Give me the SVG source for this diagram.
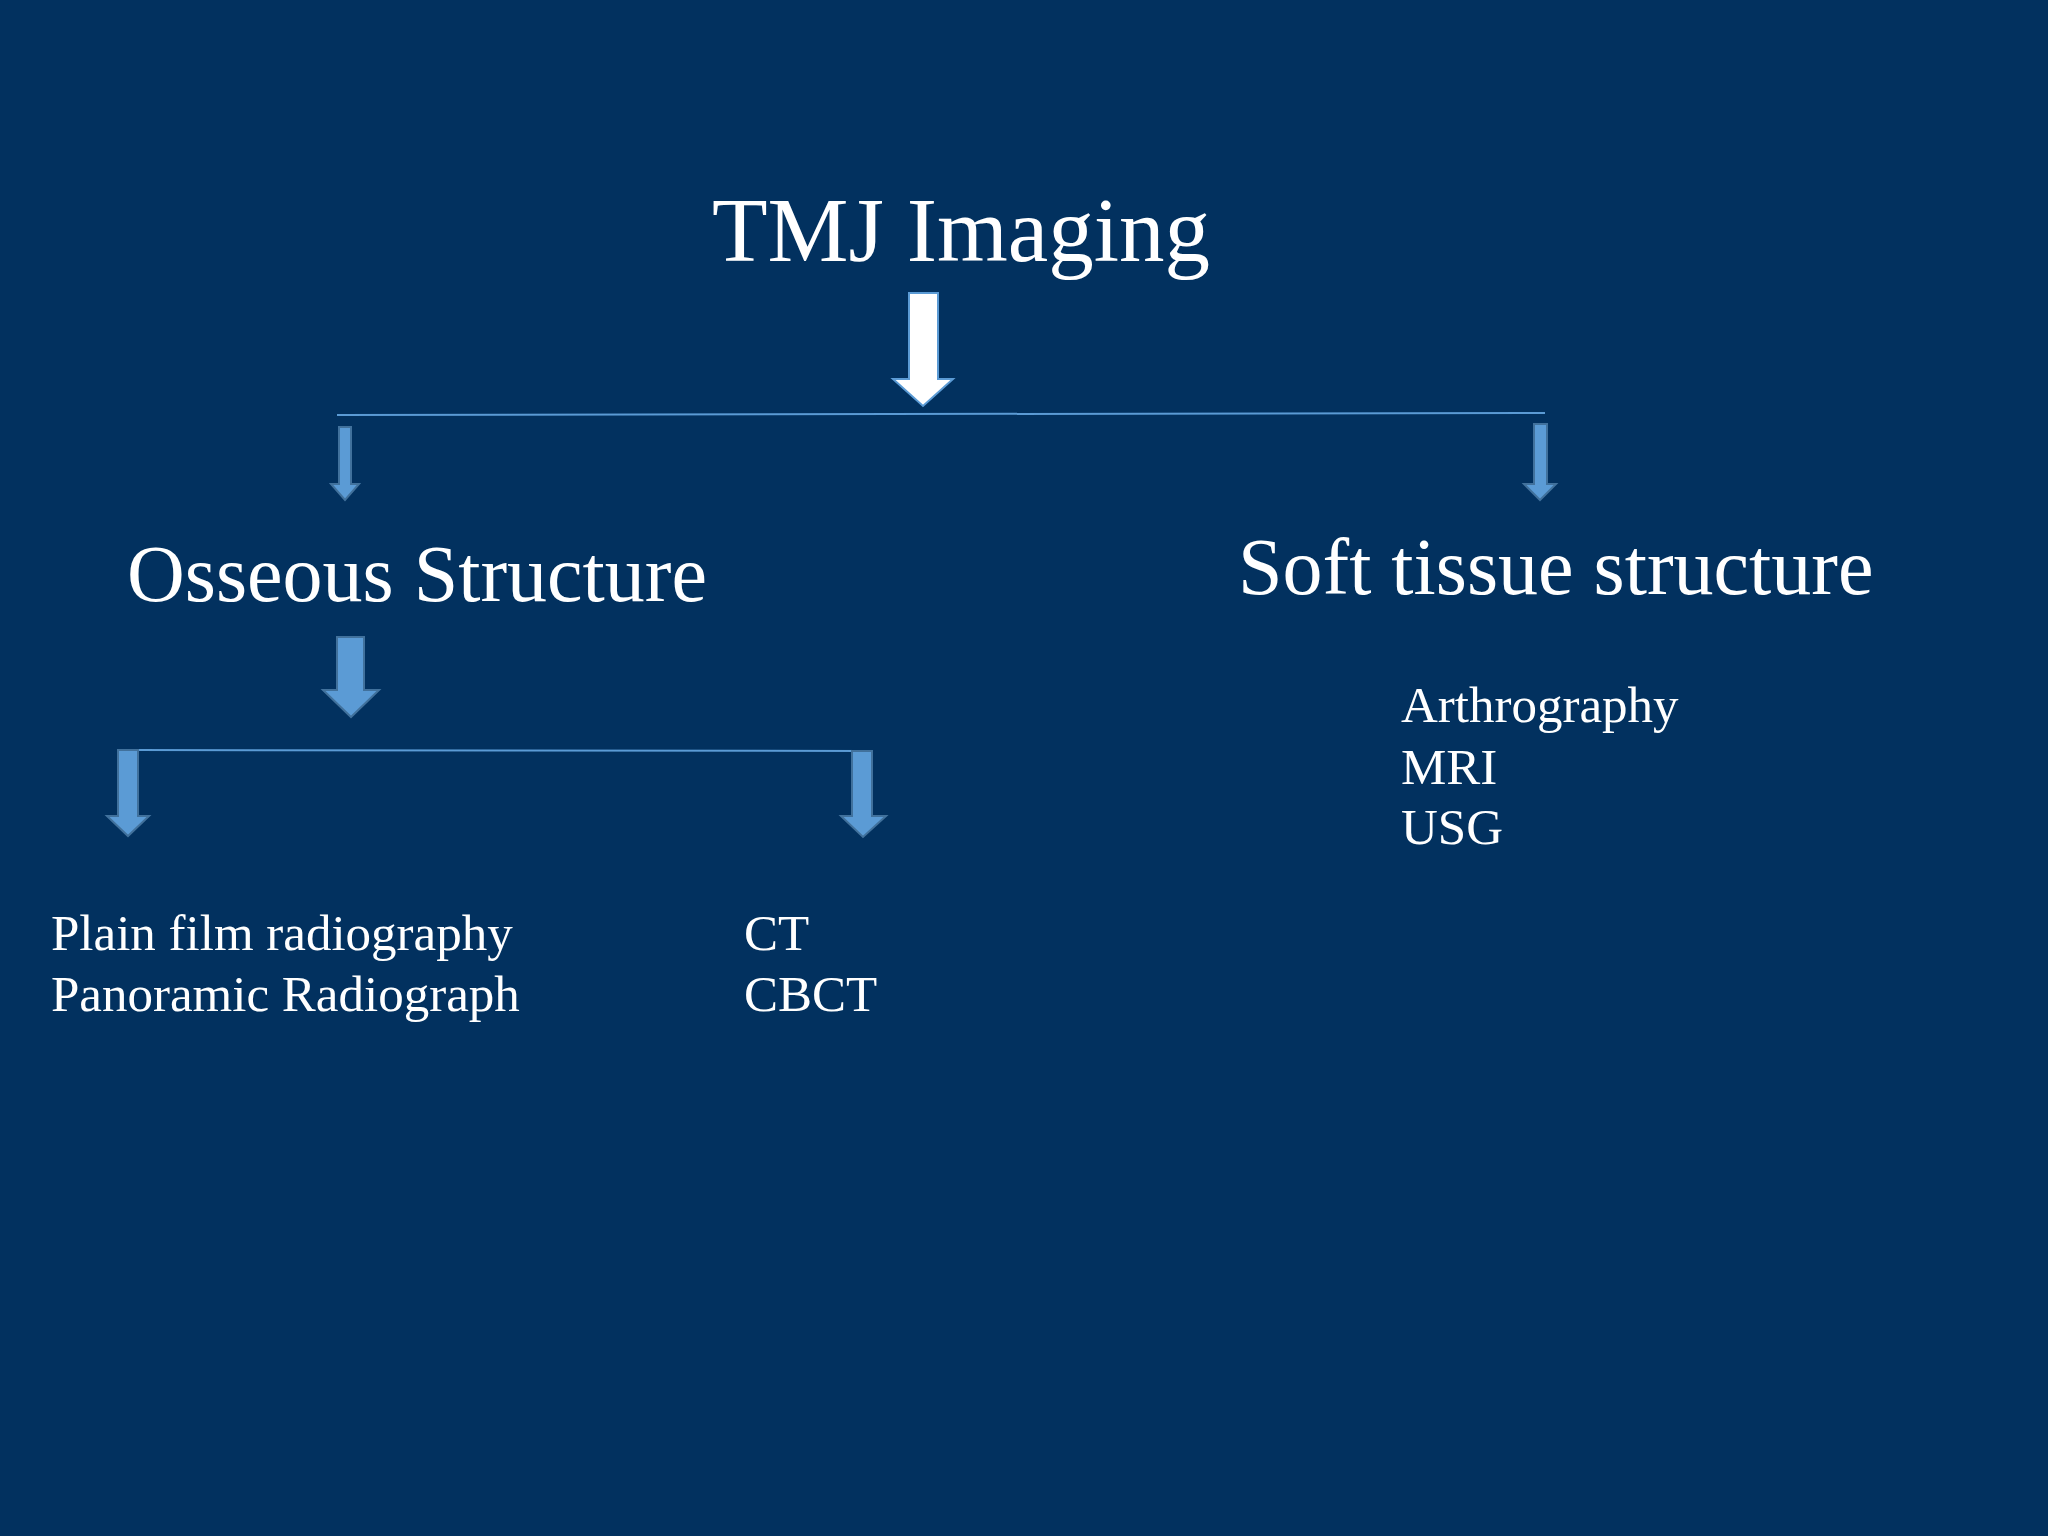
<svg xmlns="http://www.w3.org/2000/svg" width="2048" height="1536" viewBox="0 0 2048 1536">
<style>
text{font-family:"Liberation Serif","Times New Roman",serif;fill:#fff}
.t1{font-size:91px}.t2{font-size:80px}.t3{font-size:51px}
.ar{fill:#5b9bd5;stroke:#41719c;stroke-width:2}
.ln{stroke:#5b9bd5;stroke-width:2;fill:none}
</style>
<rect width="2048" height="1536" fill="#02315f"/>
<g id="title"><text class="t1" x="712" y="261">TMJ Imaging</text></g>
<g id="osseous"><text class="t2" x="127" y="601">Osseous Structure</text></g>
<g id="soft"><text class="t2" x="1238" y="594">Soft tissue structure</text></g>
<g id="plain"><text class="t3" x="51" y="950">Plain film radiography</text><text class="t3" x="51" y="1011">Panoramic Radiograph</text></g>
<g id="ct"><text class="t3" x="744" y="950">CT</text><text class="t3" x="744" y="1011">CBCT</text></g>
<g id="softlist"><text class="t3" x="1401" y="722">Arthrography</text><text class="t3" x="1401" y="784">MRI</text><text class="t3" x="1401" y="844">USG</text></g>
<g id="connectors">
<polygon points="909,293 938,293 938,379 953,379 923,406 893,379 909,379" fill="#fff" stroke="#5b9bd5" stroke-width="2"/>
<line class="ln" x1="337" y1="415" x2="1545" y2="413"/>
<polygon class="ar" points="339,427 351,427 351,484 359,484 345,500 331,484 339,484"/>
<polygon class="ar" points="1534,424 1547,424 1547,484 1556,484 1540,500 1524,484 1534,484"/>
<polygon class="ar" points="337,637 364,637 364,690 379,690 351,717 323,690 337,690"/>
<line class="ln" x1="137" y1="750" x2="862" y2="751"/>
<polygon class="ar" points="118,750 138,750 138,816 149,816 128,836 107,816 118,816"/>
<polygon class="ar" points="852,751 872,751 872,816 886,816 863,837 841,816 852,816"/>
</g>
</svg>
